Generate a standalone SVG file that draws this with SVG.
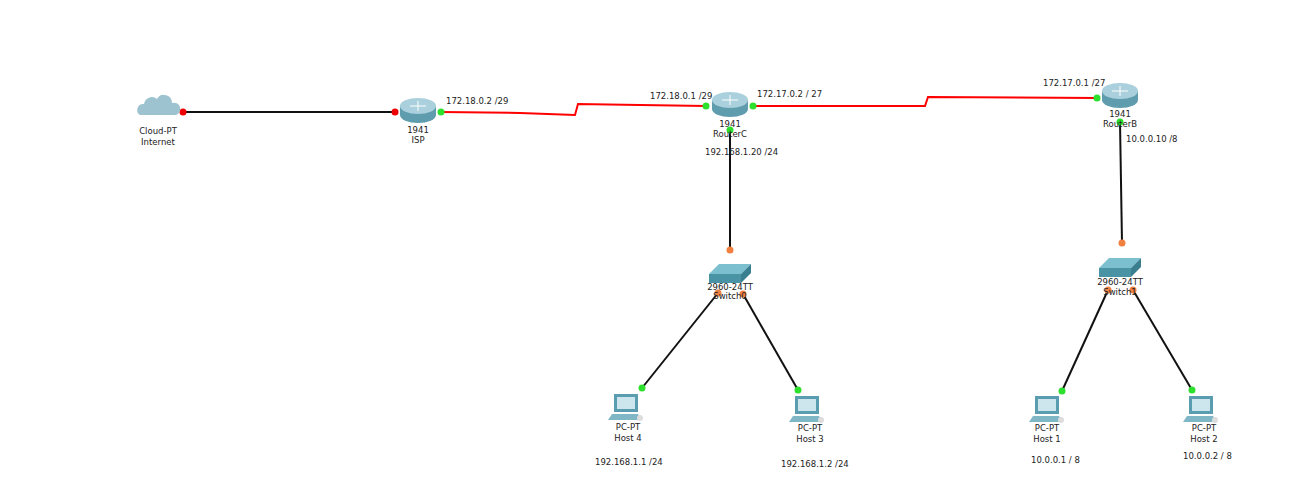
<svg xmlns="http://www.w3.org/2000/svg" width="1306" height="500" viewBox="0 0 1306 500">
<style>
text{font-family:"DejaVu Sans",sans-serif;font-size:8.5px;fill:#222}
.c{text-anchor:middle}
.k{stroke:#111;stroke-width:2;fill:none}
.r{stroke:#f00;stroke-width:2;fill:none}
.g{fill:#2de02d}.o{fill:#f08040}.d{fill:#e00}
</style>
<defs>
<g id="router"><path d="M-18,-6 v9 a18,8 0 0 0 36,0 v-9" fill="#5e9cae"/><ellipse cx="0" cy="-6" rx="18" ry="8" fill="#a9d0dc"/><path d="M-8,-6 h16 M0,-11 v10" stroke="#fff" stroke-width="1"/></g>
<g id="switch"><path d="M-22,-2 l10,-10 h32 l-10,10 z" fill="#7cc0cf"/><path d="M-22,-2 h32 v9 h-32 z" fill="#4a93a5"/><path d="M10,-2 l10,-10 v9 l-10,10 z" fill="#3a7f90"/></g>
<g id="pc"><rect x="-12" y="-14" width="24" height="18" fill="#5a9db0"/><rect x="-9" y="-11" width="18" height="12" fill="#cde6ee"/><path d="M-14,6 h26 l4,6 h-34 z" fill="#7fb7c7"/><circle cx="14" cy="10" r="3" fill="#ddd"/></g>
</defs>
<g id="connectors">
<line class="k" x1="183" y1="112" x2="395" y2="112"/>
<polyline class="r" points="441,112 520,113 575,115 578,104 640,105 706,106"/>
<polyline class="r" points="753,106 925,106 928,97 1097,98"/>
<line class="k" x1="730" y1="130" x2="730" y2="250"/>
<line class="k" x1="718" y1="293" x2="642" y2="388"/>
<line class="k" x1="743" y1="294" x2="798" y2="390"/>
<line class="k" x1="1120" y1="122" x2="1122" y2="243"/>
<line class="k" x1="1108" y1="290" x2="1062" y2="391"/>
<line class="k" x1="1133" y1="290" x2="1192" y2="390"/>
<circle class="d" cx="183" cy="112" r="3.5"/><circle class="d" cx="395" cy="112" r="3.5"/>
<circle class="g" cx="441" cy="112" r="3.5"/><circle class="g" cx="706" cy="106" r="3.5"/><circle class="g" cx="753" cy="106" r="3.5"/>
<circle class="g" cx="730" cy="130" r="3.5"/><circle class="g" cx="1097" cy="98" r="3.5"/><circle class="g" cx="1120" cy="122" r="3.5"/>
<circle class="o" cx="730" cy="250" r="3.5"/><circle class="o" cx="718" cy="293" r="3.5"/><circle class="o" cx="743" cy="294" r="3.5"/>
<circle class="o" cx="1122" cy="243" r="3.5"/><circle class="o" cx="1108" cy="290" r="3.5"/><circle class="o" cx="1133" cy="290" r="3.5"/>
<circle class="g" cx="642" cy="388" r="3.5"/><circle class="g" cx="798" cy="390" r="3.5"/><circle class="g" cx="1062" cy="391" r="3.5"/><circle class="g" cx="1192" cy="390" r="3.5"/>
<text x="446" y="104">172.18.0.2 /29</text>
<text x="650" y="99">172.18.0.1 /29</text>
<text x="757" y="97">172.17.0.2 / 27</text>
<text x="1043" y="86">172.17.0.1 /27</text>
<text x="705" y="155">192.168.1.20 /24</text>
<text x="1126" y="142">10.0.0.10 /8</text>
<text x="595" y="465">192.168.1.1 /24</text>
<text x="781" y="467">192.168.1.2 /24</text>
<text x="1031" y="463">10.0.0.1 / 8</text>
<text x="1183" y="459">10.0.0.2 / 8</text>
</g>
<g id="internet"><path d="M140,115 a6,6 0 0 1 4,-11 a8,8 0 0 1 13,-5 a8,8 0 0 1 15,4 a6,6 0 0 1 4,12 z" fill="#9cc3cf"/><text class="c" x="158" y="134">Cloud-PT</text><text class="c" x="158" y="145">Internet</text></g>
<g id="isp"><use href="#router" x="418" y="112"/><text class="c" x="418" y="133">1941</text><text class="c" x="418" y="143">ISP</text></g>
<g id="routerC"><use href="#router" x="730" y="106"/><text class="c" x="730" y="127">1941</text><text class="c" x="730" y="137">RouterC</text></g>
<g id="routerB"><use href="#router" x="1120" y="97"/><text class="c" x="1120" y="117">1941</text><text class="c" x="1120" y="127">RouterB</text></g>
<g id="switch0"><use href="#switch" x="731" y="276"/><text class="c" x="730" y="290">2960-24TT</text><text class="c" x="730" y="299">Switch0</text></g>
<g id="switch1"><use href="#switch" x="1121" y="270"/><text class="c" x="1120" y="285">2960-24TT</text><text class="c" x="1120" y="295">Switch1</text></g>
<g id="host4"><use href="#pc" x="626" y="408"/><text class="c" x="628" y="430">PC-PT</text><text class="c" x="628" y="441">Host 4</text></g>
<g id="host3"><use href="#pc" x="807" y="410"/><text class="c" x="810" y="431">PC-PT</text><text class="c" x="810" y="442">Host 3</text></g>
<g id="host1"><use href="#pc" x="1047" y="410"/><text class="c" x="1047" y="431">PC-PT</text><text class="c" x="1047" y="442">Host 1</text></g>
<g id="host2"><use href="#pc" x="1201" y="410"/><text class="c" x="1204" y="431">PC-PT</text><text class="c" x="1204" y="442">Host 2</text></g>
</svg>
